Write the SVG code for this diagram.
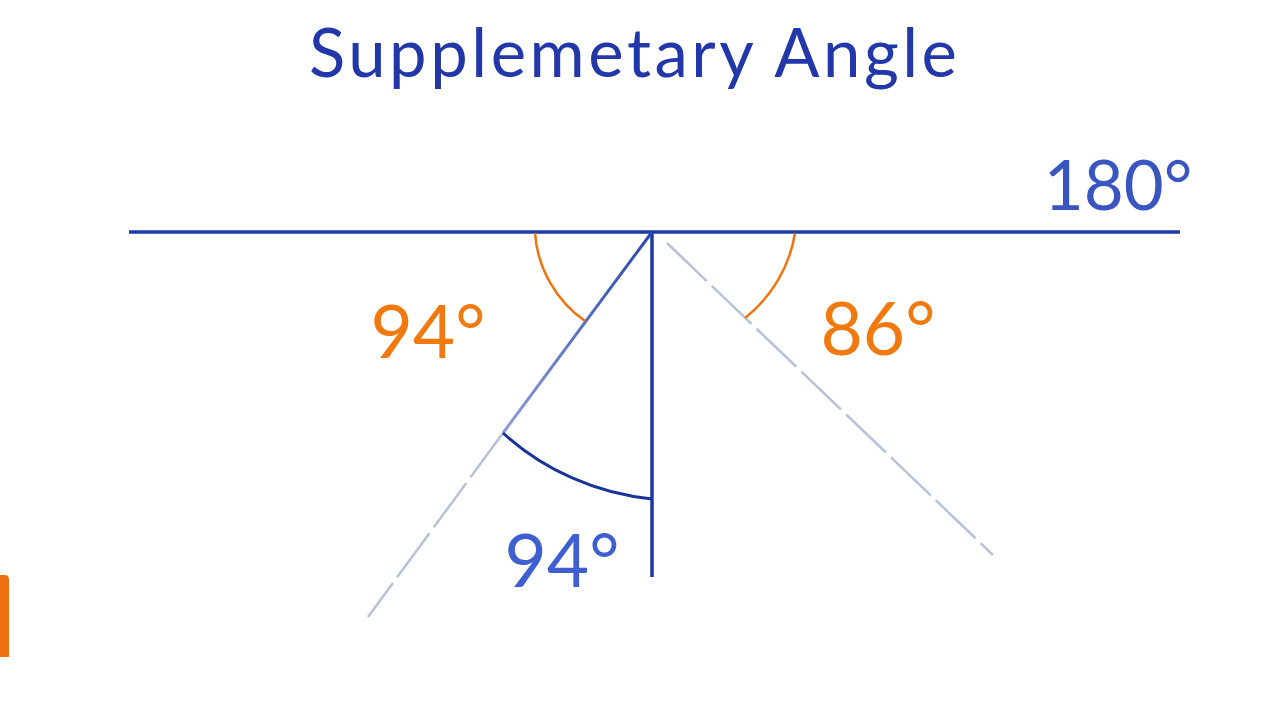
<svg xmlns="http://www.w3.org/2000/svg" width="1280" height="720" viewBox="0 0 1280 720">
<defs>
<style>
.t{font-family:Lato,"Noto Sans",sans-serif;}
.line{stroke:#1a38a8;stroke-width:3.5;fill:none;}
.arc-o{stroke:#ef7410;stroke-width:2.5;fill:none;}
.dash{stroke:#b8c2d6;stroke-width:2.5;fill:none;stroke-dasharray:55 7;}
</style>
<linearGradient id="gl" x1="652" y1="232" x2="503" y2="433" gradientUnits="userSpaceOnUse">
<stop offset="0" stop-color="#2a45b0"/>
<stop offset="1" stop-color="#8f9fd0"/>
</linearGradient>
</defs>
<rect width="1280" height="720" fill="#ffffff"/>
<text class="t" x="309" y="77" font-size="67" fill="#2238a8" textLength="648" lengthAdjust="spacing">Supplemetary Angle</text>
<g id="connectors">
<line class="line" x1="129" y1="232" x2="1180" y2="232"/>
<line class="line" x1="652" y1="232" x2="652" y2="577"/>
<line x1="652" y1="232" x2="503" y2="433" stroke="url(#gl)" stroke-width="3"/>
<line class="dash" x1="503" y1="433" x2="368" y2="617"/>
<line class="dash" x1="667" y1="243" x2="993" y2="555"/>
</g>
<g id="arcs">
<path class="arc-o" d="M535,233 A118,118 0 0 0 585,321"/>
<path class="arc-o" d="M795,233 A135,135 0 0 1 745,318"/>
<path d="M503,433 A260,260 0 0 0 652,499" stroke="#1a3398" stroke-width="3" fill="none"/>
</g>
<g id="labels">
<text class="t" x="1118" y="210" font-size="69" fill="#3a55c0" text-anchor="middle">180°</text>
<text class="t" x="428" y="358" font-size="73" fill="#f07a10" text-anchor="middle">94°</text>
<text class="t" x="878" y="355" font-size="73" fill="#f07a10" text-anchor="middle">86°</text>
<text class="t" x="562" y="587" font-size="73" fill="#3d5fd0" text-anchor="middle">94°</text>
</g>
<path d="M0,575 H5 Q9,575 9,580 V657 H0 Z" fill="#f07010"/>
</svg>
